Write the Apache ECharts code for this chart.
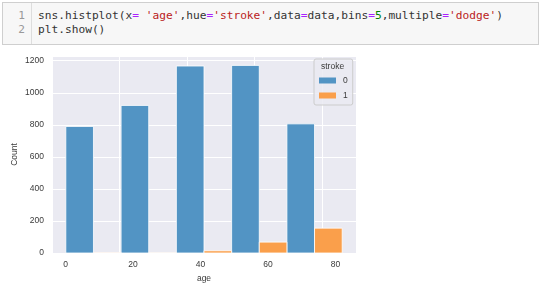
<!DOCTYPE html>
<html>
<head>
<meta charset="utf-8">
<script src="https://cdn.jsdelivr.net/npm/echarts@6/dist/echarts.min.js"></script>
<style>
  html, body { margin: 0; padding: 0; background: #fff; width: 541px; height: 289px; overflow: hidden; }
  #chart { position: absolute; left: 0; top: 0; width: 541px; height: 289px; }
  #cell { position: absolute; left: 2px; top: 2px; width: 535px; height: 41px; background: #f7f7f7; border: 1px solid #cfcfcf; z-index: 2;
          font-family: "DejaVu Sans Mono", "Liberation Mono", monospace; font-size: 11.2px; line-height: 14px; }
  #gutter { position: absolute; left: 0; top: 0; width: 29px; height: 41px; border-right: 1px solid #ddd; color: #999; text-align: right; box-sizing: border-box; padding: 6px 6px 0 0; }
  #code { position: absolute; left: 35px; top: 6px; color: #333; white-space: pre; }
  .s { color: #ba2121; } .o { color: #aa22ff; } .n { color: #008000; }
</style>
</head>
<body>
<div id="cell">
  <div id="gutter">1<br>2</div>
  <div id="code">sns.histplot(x<span class="o">=</span> <span class="s">'age'</span>,hue<span class="o">=</span><span class="s">'stroke'</span>,data<span class="o">=</span>data,bins<span class="o">=</span><span class="n">5</span>,multiple<span class="o">=</span><span class="s">'dodge'</span>)
plt.show()</div>
</div>
<div id="chart"></div>
<script>
// Data
var binEdges = [0.08, 16.464, 32.848, 49.232, 65.616, 82];
var stroke0 = [790, 921, 1167, 1171, 806];
var stroke1 = [2, 1, 14, 68, 155];
var xTicks = [0, 20, 40, 60, 80];
var yTicks = [0, 200, 400, 600, 800, 1000, 1200];

var data0 = [], data1 = [];
for (var i = 0; i < stroke0.length; i++) {
  var mid = (binEdges[i] + binEdges[i + 1]) / 2;
  data0.push([binEdges[i], mid, stroke0[i]]);
  data1.push([mid, binEdges[i + 1], stroke1[i]]);
}

function renderBar(params, api) {
  var p0 = api.coord([api.value(0), api.value(2)]);
  var p1 = api.coord([api.value(1), 0]);
  return {
    type: 'rect',
    shape: { x: p0[0], y: p0[1], width: p1[0] - p0[0], height: p1[1] - p0[1] },
    style: { fill: api.visual('color'), stroke: '#ffffff', lineWidth: 0.8 }
  };
}

var labelFont = { fontFamily: 'Liberation Sans', fontSize: 8.5, color: '#3a3a3a' };
var chart = echarts.init(document.getElementById('chart'), null, { renderer: 'canvas' });
chart.setOption({
  animation: false,
  backgroundColor: '#ffffff',
  grid: { left: 52, right: 185, top: 56, bottom: 36, show: true, backgroundColor: '#eaeaf2', borderWidth: 0, containLabel: false, outerBoundsMode: 'none' },
  xAxis: {
    type: 'value', min: -4.016, max: 86.096,
    name: 'age', nameLocation: 'middle', nameGap: 21, nameMoveOverlap: false,
    nameTextStyle: labelFont,
    axisLine: { show: false }, axisTick: { show: false },
    axisLabel: Object.assign({ margin: 7, customValues: xTicks, formatter: function (v) { return String(v); } }, labelFont),
    splitLine: { show: true, lineStyle: { color: '#ffffff', width: 1 } },
    interval: 20
  },
  yAxis: {
    type: 'value', min: 0, max: 1229.55,
    name: 'Count', nameLocation: 'middle', nameGap: 33, nameRotate: 90, nameMoveOverlap: false,
    nameTextStyle: labelFont,
    axisLine: { show: false }, axisTick: { show: false },
    axisLabel: Object.assign({ margin: 8, customValues: yTicks, formatter: function (v) { return String(v); } }, labelFont),
    splitLine: { show: true, lineStyle: { color: '#ffffff', width: 1 } },
    interval: 200
  },
  legend: {
    orient: 'vertical', left: 314, top: 59,
    data: [{ name: '0', icon: 'rect' }, { name: '1', icon: 'rect' }],
    itemWidth: 17, itemHeight: 6, itemGap: 6,
    padding: [17, 5, 5, 5],
    backgroundColor: 'rgba(234,234,242,0.85)', borderColor: '#cccccc', borderWidth: 1, borderRadius: 2,
    textStyle: { fontFamily: 'Liberation Sans', fontSize: 8.5, color: '#3a3a3a', padding: [0, 0, 0, 2] }
  },
  graphic: [{
    type: 'text', left: 321, top: 62, z: 100,
    style: { text: 'stroke', font: '8.5px "Liberation Sans"', fill: '#3a3a3a' }
  }],
  series: [
    { name: '0', type: 'custom', renderItem: renderBar, data: data0, itemStyle: { color: '#5294c4' }, encode: { x: [0, 1], y: 2 } },
    { name: '1', type: 'custom', renderItem: renderBar, data: data1, itemStyle: { color: '#fa9f4b' }, encode: { x: [0, 1], y: 2 } }
  ]
});
</script>
</body>
</html>
